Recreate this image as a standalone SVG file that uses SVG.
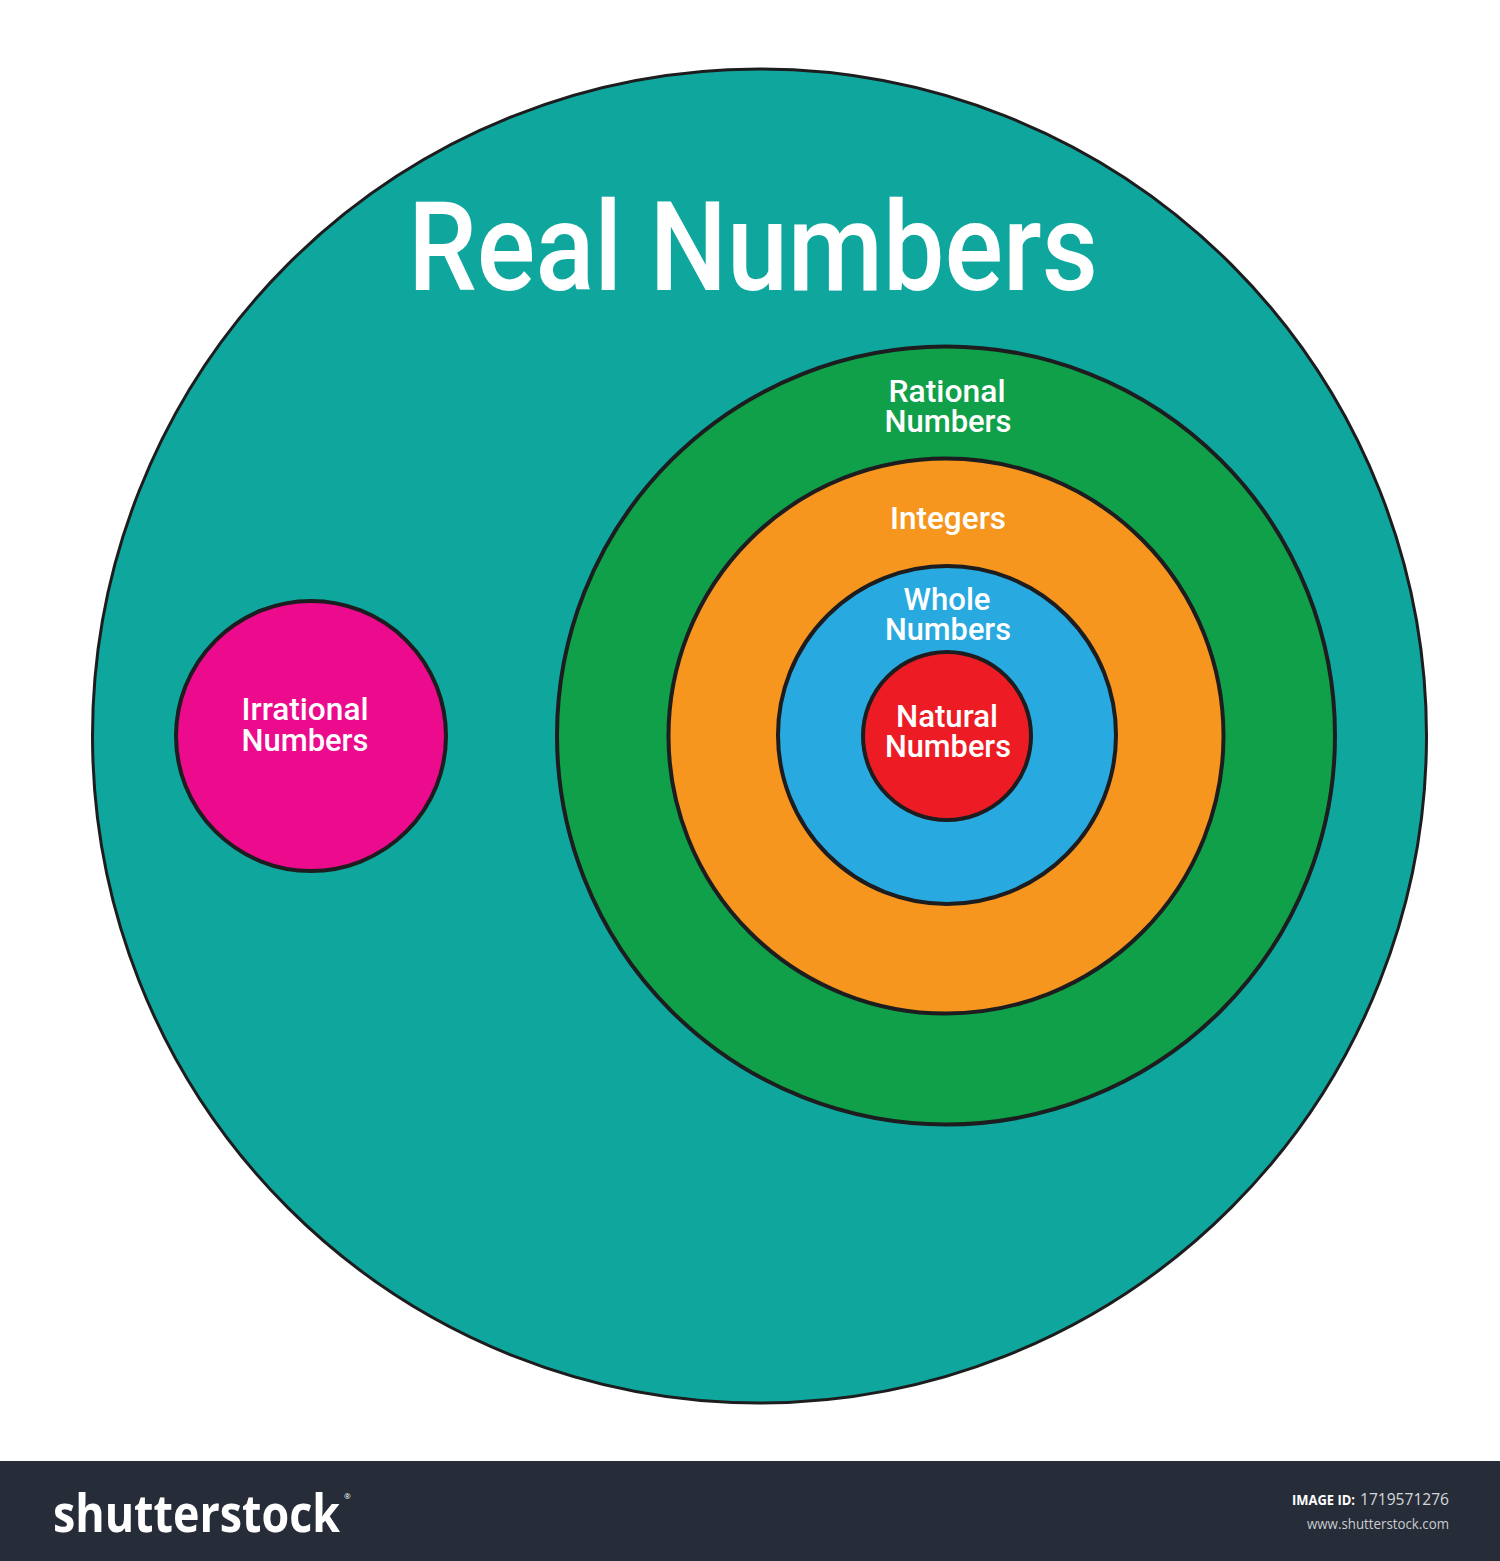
<svg xmlns="http://www.w3.org/2000/svg" width="1500" height="1561" viewBox="0 0 1500 1561">
<style>
.ring{stroke:#1d1d1f;stroke-width:4}
.lbl{font-family:Roboto,"Liberation Sans",Arial,sans-serif;font-weight:500;font-size:32px;fill:#ffffff;text-anchor:middle}
.title{font-family:Roboto,"Liberation Sans",Arial,sans-serif;font-weight:500;font-size:125px;fill:#ffffff;text-anchor:middle}
.foot{font-family:"Open Sans","Liberation Sans",sans-serif}
</style>
<rect x="0" y="0" width="1500" height="1561" fill="#ffffff"/>
<g id="real-numbers">
<circle cx="759.5" cy="736" r="667" fill="#0fa79d" class="ring" style="stroke-width:3"/>
<text class="title" x="753" y="290" textLength="690" lengthAdjust="spacingAndGlyphs">Real Numbers</text>
</g>
<g id="irrational-numbers">
<circle cx="311" cy="736" r="135" fill="#ec0a8d" class="ring"/>
<text class="lbl" x="305" y="720" textLength="127" lengthAdjust="spacingAndGlyphs">Irrational</text>
<text class="lbl" x="305" y="751" textLength="127" lengthAdjust="spacingAndGlyphs">Numbers</text>
</g>
<g id="rational-numbers">
<circle cx="946" cy="735.5" r="389" fill="#10a04a" class="ring"/>
<text class="lbl" x="947" y="402" textLength="117" lengthAdjust="spacingAndGlyphs">Rational</text>
<text class="lbl" x="948" y="432" textLength="127" lengthAdjust="spacingAndGlyphs">Numbers</text>
</g>
<g id="integers">
<circle cx="946" cy="736" r="277.5" fill="#f7961f" class="ring"/>
<text class="lbl" x="948" y="529" textLength="116" lengthAdjust="spacingAndGlyphs">Integers</text>
</g>
<g id="whole-numbers">
<circle cx="947" cy="735" r="169" fill="#28aae1" class="ring"/>
<text class="lbl" x="947" y="610" textLength="87" lengthAdjust="spacingAndGlyphs">Whole</text>
<text class="lbl" x="948" y="640" textLength="126" lengthAdjust="spacingAndGlyphs">Numbers</text>
</g>
<g id="natural-numbers">
<circle cx="947" cy="736" r="84" fill="#ed1c24" class="ring"/>
<text class="lbl" x="947" y="727" textLength="102" lengthAdjust="spacingAndGlyphs">Natural</text>
<text class="lbl" x="948" y="757" textLength="126" lengthAdjust="spacingAndGlyphs">Numbers</text>
</g>
<g id="connectors"></g>
<g id="footer">
<rect x="0" y="1461" width="1500" height="100" fill="#272d38"/>
<text class="foot" x="53" y="1532" font-size="52" font-weight="700" fill="#ffffff" textLength="287" lengthAdjust="spacingAndGlyphs">shutterstock</text>
<text class="foot" x="344" y="1499" font-size="8" fill="#ffffff">®</text>
<text class="foot" x="1292" y="1505" font-size="15" font-weight="700" fill="#ffffff" textLength="63" lengthAdjust="spacingAndGlyphs">IMAGE ID:</text>
<text class="foot" x="1360" y="1505" font-size="16" fill="#d5d7da" textLength="89" lengthAdjust="spacingAndGlyphs">1719571276</text>
<text class="foot" x="1307" y="1529" font-size="14" fill="#c9ccd0" textLength="142" lengthAdjust="spacingAndGlyphs">www.shutterstock.com</text>
</g>
</svg>
